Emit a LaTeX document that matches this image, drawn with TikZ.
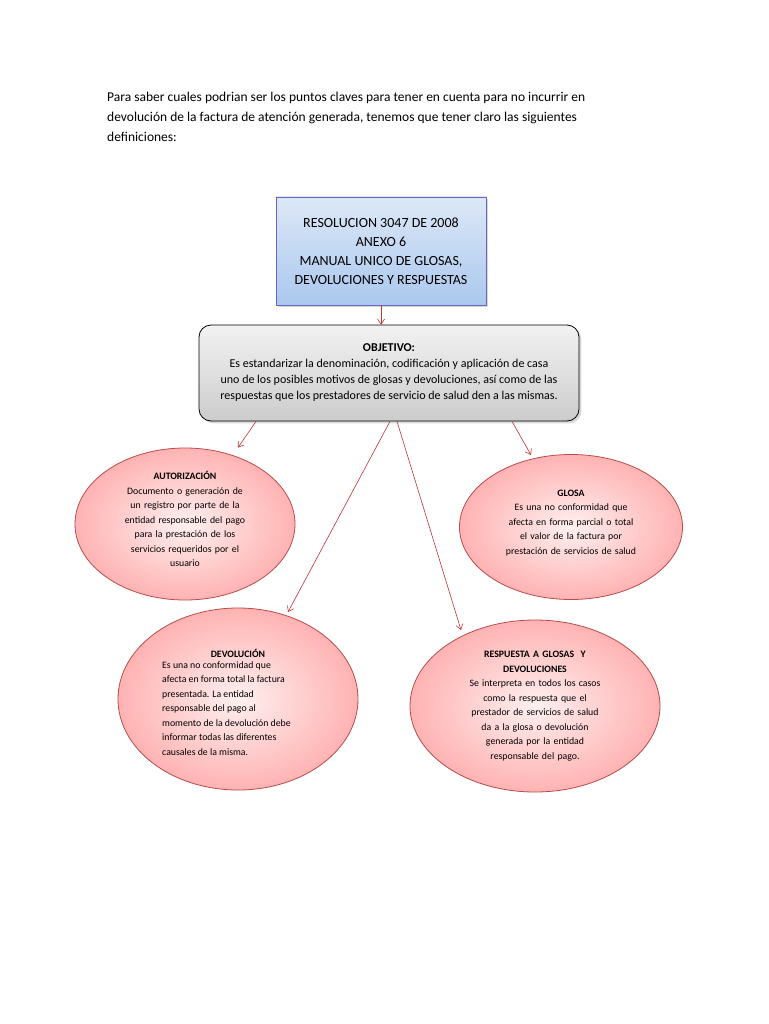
\documentclass[tikz,border=0pt]{standalone}
\usepackage{fontspec}
\setmainfont{Carlito}
\usetikzlibrary{shapes.geometric,arrows.meta,shadows}
\definecolor{boxblue}{RGB}{198,217,241}
\definecolor{boxblue2}{RGB}{170,200,238}
\begin{document}
\begin{tikzpicture}[x=1pt,y=-1pt,
  conn/.style={draw=red!70!black!80,line width=0.6pt,-{Straight Barb[length=5pt,width=7pt]}},
  ell/.style={ellipse,draw=red!60!black!70,line width=0.8pt,inner color=red!6,outer color=red!30,minimum width=#1},
  etext/.style={font=\fontsize{9.8}{14.5}\selectfont,align=center,text width=160pt}]
\useasboundingbox (0,0) rectangle (768,1024);
\fill[white] (0,0) rectangle (768,1024);
\node[anchor=north west,align=left,font=\fontsize{13.5}{20}\selectfont,inner sep=0] (intro) at (107,92)
 {Para saber cuales podrian ser los puntos claves para tener en cuenta para no incurrir en\\
 devolución de la factura de atención generada, tenemos que tener claro las siguientes\\
 definiciones:};
\node[draw=blue!60!black!60,top color=boxblue!60,bottom color=boxblue2,minimum width=210pt,minimum height=108pt,
  align=center,font=\fontsize{14}{19}\selectfont,drop shadow={opacity=0.3}] (res) at (381,251)
 {RESOLUCION 3047 DE 2008\\ANEXO 6\\MANUAL UNICO DE GLOSAS,\\DEVOLUCIONES Y RESPUESTAS};
\node[draw=black,line width=0.8pt,rounded corners=12pt,top color=gray!10,bottom color=gray!40,minimum width=380pt,
  minimum height=96pt,align=center,font=\fontsize{12}{16}\selectfont,drop shadow={opacity=0.3}] (obj) at (389,373)
 {\textbf{OBJETIVO:}\\Es estandarizar la denominación, codificación y aplicación de casa\\
 uno de los posibles motivos de glosas y devoluciones, así como de las\\
 respuestas que los prestadores de servicio de salud den a las mismas.};
\node[ell=220pt,minimum height=152pt] (aut) at (185,524) {};
\node[ell=223pt,minimum height=145pt] (glo) at (571,527) {};
\node[ell=240pt,minimum height=182pt] (dev) at (238,699) {};
\node[ell=250pt,minimum height=172pt] (resp) at (535,706) {};
\node[etext] (tA) at (185,519) {\textbf{AUTORIZACIÓN}\\Documento o generación de\\un registro por parte de la\\entidad responsable del pago\\para la prestación de los\\servicios requeridos por el\\usuario};
\node[etext] (tG) at (571,523) {\textbf{GLOSA}\\Es una no conformidad que\\afecta en forma parcial o total\\el valor de la factura por\\prestación de servicios de salud};
\node[etext] (tDh) at (238,653) {\textbf{DEVOLUCIÓN}};
\node[font=\fontsize{9.8}{14.5}\selectfont,align=left,anchor=north west,inner sep=0] (tD) at (162,661)
 {Es una no conformidad que\\afecta en forma total la factura\\presentada. La entidad\\responsable del pago al\\momento de la devolución debe\\informar todas las diferentes\\causales de la misma.};
\node[etext] (tR) at (535,706) {\textbf{RESPUESTA A GLOSAS\ \ Y}\\\textbf{DEVOLUCIONES}\\Se interpreta en todos los casos\\como la respuesta que el\\prestador de servicios de salud\\da a la glosa o devolución\\generada por la entidad\\responsable del pago.};
\draw[conn] (res.south) -- (obj.north -| res.south);
\draw[conn] (obj.south -| 256,0) -- (aut.north -| 238,0);
\draw[conn] (obj.south -| 512,0) -- (531,455);
\draw[conn] (obj.south -| 390,0) -- (288,612);
\draw[conn] (obj.south -| 397,0) -- (461,630);
\end{tikzpicture}
\end{document}
